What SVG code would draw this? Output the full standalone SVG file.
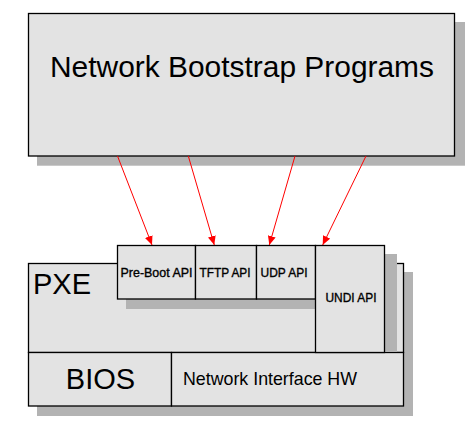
<svg xmlns="http://www.w3.org/2000/svg" width="476" height="425" viewBox="0 0 476 425">
<defs>
<style>
.box{fill:#e3e3e3;stroke:#000;stroke-width:1.3}
.sh{fill:#b3b3b3}
.t{font-family:"Liberation Sans",Arial,sans-serif;fill:#000}
.api{font-size:12.3px;stroke:#000;stroke-width:0.35}
.conn{stroke:#ff0000;stroke-width:1;fill:none;marker-end:url(#ah)}
</style>
<marker id="ah" markerWidth="10" markerHeight="8" refX="9" refY="4" orient="auto" markerUnits="userSpaceOnUse">
<path d="M0,0 L9,4 L0,8 Z" fill="#ff0000"/>
</marker>
</defs>
<rect width="476" height="425" fill="#fff"/>
<g id="nbp">
<rect class="sh" x="37" y="22" width="428" height="143.7"/>
<rect class="box" x="28.5" y="13.5" width="426" height="142.5"/>
<text class="t" x="242" y="77" font-size="30" text-anchor="middle" textLength="384" lengthAdjust="spacingAndGlyphs">Network Bootstrap Programs</text>
</g>
<g id="lower">
<rect class="sh" x="37" y="272" width="376" height="144"/>
<g id="pxe">
<rect class="box" x="28.5" y="263.5" width="375" height="89"/>
<text class="t" x="33" y="293.5" font-size="29">PXE</text>
</g>
<g id="bios">
<rect class="box" x="28.5" y="352.5" width="143" height="53.5"/>
<text class="t" x="100.5" y="388.5" font-size="29" text-anchor="middle">BIOS</text>
</g>
<g id="nihw">
<rect class="box" x="171.5" y="352.5" width="232" height="53.5"/>
<text class="t" x="183" y="385" font-size="18.5" textLength="174" lengthAdjust="spacingAndGlyphs">Network Interface HW</text>
</g>
</g>
<g id="apis">
<path class="sh" d="M126,254 H397 V352 H324 V309 H126 Z"/>
<g id="preboot">
<rect class="box" x="117.5" y="245.5" width="78" height="53.5"/>
<text class="t api" x="156.5" y="276.7" text-anchor="middle" textLength="72" lengthAdjust="spacingAndGlyphs">Pre-Boot API</text>
</g>
<g id="tftp">
<rect class="box" x="195.5" y="245.5" width="61" height="53.5"/>
<text class="t api" x="225" y="276.7" text-anchor="middle" textLength="51" lengthAdjust="spacingAndGlyphs">TFTP API</text>
</g>
<g id="udp">
<rect class="box" x="256.5" y="245.5" width="59" height="53.5"/>
<text class="t api" x="284" y="276.7" text-anchor="middle" textLength="47" lengthAdjust="spacingAndGlyphs">UDP API</text>
</g>
<g id="undi">
<rect class="box" x="315.5" y="245.5" width="69" height="107"/>
<text class="t api" x="351" y="302.3" text-anchor="middle" textLength="51" lengthAdjust="spacingAndGlyphs">UNDI API</text>
</g>
</g>
<g id="connectors">
<line class="conn" x1="117.5" y1="156" x2="152" y2="245"/>
<line class="conn" x1="188.3" y1="156" x2="214.3" y2="245"/>
<line class="conn" x1="295" y1="156" x2="269.3" y2="245"/>
<line class="conn" x1="366" y1="156" x2="322.7" y2="245"/>
</g>
</svg>
